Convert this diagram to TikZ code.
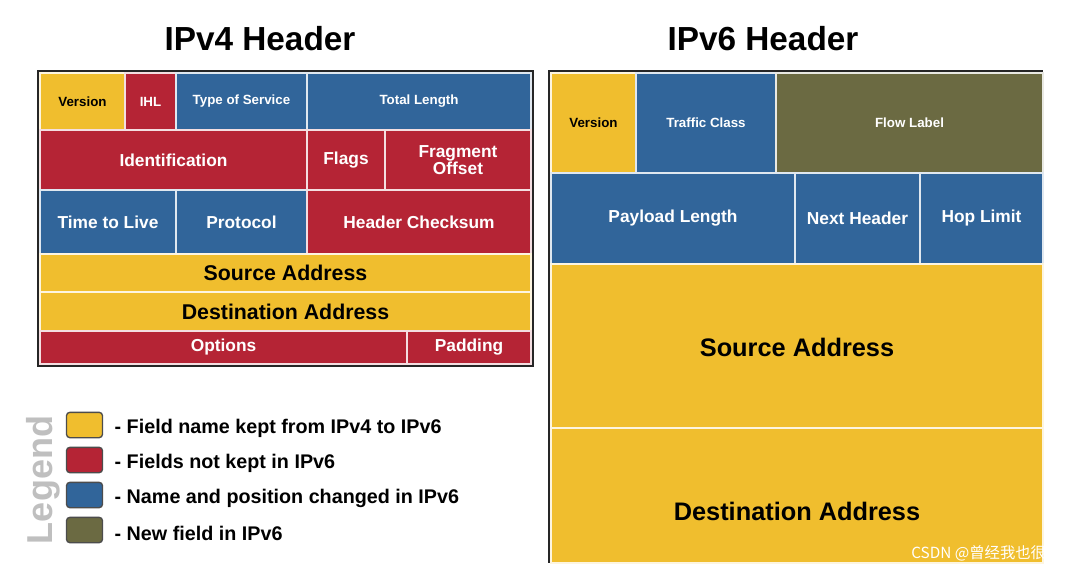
\documentclass[tikz,border=0pt]{standalone}
\usepackage{fontspec}
\setmainfont{Liberation Sans}
\newfontfamily\cjk{Noto Sans CJK SC}
\definecolor{cy}{HTML}{F0BE2E}
\definecolor{cr}{HTML}{B52435}
\definecolor{cb}{HTML}{31659A}
\definecolor{co}{HTML}{6B6A42}
\newcommand{\fcell}[9]{%
  \path[fill=#6,draw=white!85!#6,line width=1.3pt] (#2,#3) rectangle (#4,#5);
  \node[font=\bfseries\fontsize{#8}{#8}\selectfont,text=#7,align=center] (#1) at ({(#2+#4)/2},{(#3+#5)/2}) {#9};}
\begin{document}
\begin{tikzpicture}[x=0.75pt,y=-0.75pt,
  sw/.style={draw=black!70,line width=1pt,rounded corners=2.5pt,minimum width=27pt,minimum height=19pt,inner sep=0pt},
  lt/.style={font=\bfseries\fontsize{14.8}{14.8}\selectfont,anchor=west}]
\useasboundingbox (0,0) rectangle (1092,573);
\fill[white] (0,0) rectangle (1092,573);
\node[font=\bfseries\fontsize{25}{25}\selectfont] (t4) at (260,39) {IPv4 Header};
\node[font=\bfseries\fontsize{25}{25}\selectfont] (t6) at (763,39) {IPv6 Header};
% IPv4
\fill[black!85] (37,70) rectangle (534,367);
\fcell{v4}{40}{73}{125}{130}{cy}{black}{10}{Version}
\fcell{ihl}{125}{73}{176}{130}{cr}{white}{10}{IHL}
\fcell{tos}{176}{73}{307}{130}{cb}{white}{10}{Type of Service}
\fcell{tl}{307}{73}{531}{130}{cb}{white}{10}{Total Length}
\fcell{id}{40}{130}{307}{190}{cr}{white}{13}{Identification}
\fcell{fl}{307}{130}{385}{190}{cr}{white}{13}{Flags}
\fcell{fo}{385}{130}{531}{190}{cr}{white}{13}{\fontsize{13}{15}\selectfont Fragment\\Offset}
\fcell{ttl}{40}{190}{176}{254}{cb}{white}{13}{Time to Live}
\fcell{pr}{176}{190}{307}{254}{cb}{white}{13}{Protocol}
\fcell{hc}{307}{190}{531}{254}{cr}{white}{13}{Header Checksum}
\fcell{sa4}{40}{254}{531}{292}{cy}{black}{16}{Source Address}
\fcell{da4}{40}{292}{531}{331}{cy}{black}{16}{Destination Address}
\fcell{op}{40}{331}{407}{364}{cr}{white}{13}{Options}
\fcell{pad}{407}{331}{531}{364}{cr}{white}{13}{Padding}
% IPv6
\fill[black!85] (548,70) rectangle (1043,563);
\fcell{v6}{551}{73}{636}{173}{cy}{black}{10}{Version}
\fcell{tc}{636}{73}{776}{173}{cb}{white}{10}{Traffic Class}
\fcell{flw}{776}{73}{1043}{173}{co}{white}{10}{Flow Label}
\fcell{pl}{551}{173}{795}{264}{cb}{white}{13}{Payload Length}
\fcell{nh}{795}{173}{920}{264}{cb}{white}{13}{Next Header}
\fcell{hl}{920}{173}{1043}{264}{cb}{white}{13}{Hop Limit}
\path[fill=cy,draw=white!85!cy,line width=1.3pt] (551,264) rectangle (1043,428);
\node[font=\bfseries\fontsize{19}{19}\selectfont] (sa6) at (797,347) {Source Address};
\path[fill=cy,draw=white!85!cy,line width=1.3pt] (551,428) rectangle (1043,563);
\node[font=\bfseries\fontsize{19}{19}\selectfont] (da6) at (797,511) {Destination Address};
\node[font=\cjk\fontsize{11.5}{11.5}\selectfont,text=white,anchor=east,inner sep=0pt] (wm) at (1077,553) {CSDN @曾经我也很执着};
% Legend
\node[rotate=90,font=\bfseries\fontsize{27}{27}\selectfont,text=black!25] (lg) at (43,480) {Legend};
\node[sw,fill=cy] (s1) at (84.5,425) {};
\node[sw,fill=cr] (s2) at (84.5,460) {};
\node[sw,fill=cb] (s3) at (84.5,495) {};
\node[sw,fill=co] (s4) at (84.5,530) {};
\node[lt] (l1) at (110,428) {- Field name kept from IPv4 to IPv6};
\node[lt] (l2) at (110,463) {- Fields not kept in IPv6};
\node[lt] (l3) at (110,498) {- Name and position changed in IPv6};
\node[lt] (l4) at (110,533) {- New field in IPv6};
\end{tikzpicture}
\end{document}
